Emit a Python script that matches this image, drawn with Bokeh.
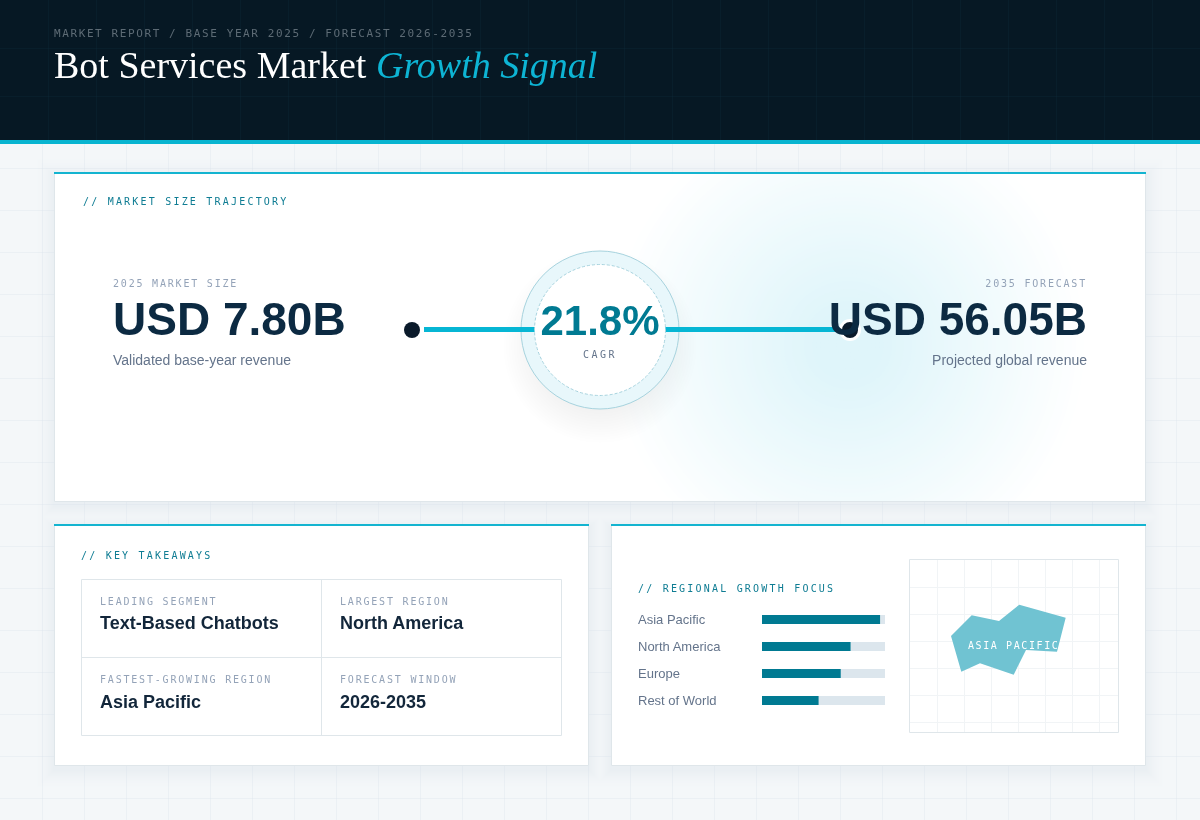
import numpy as np
from bokeh.embed import file_html
from bokeh.resources import INLINE
from bokeh.plotting import figure
from bokeh.layouts import column
from bokeh.models import Range1d
from bokeh.core.properties import value

# ---------- data ----------
REGIONS = ["Asia Pacific", "North America", "Europe", "Rest of World"]
REGION_SHARE = [96, 72, 64, 46]
KPI_LABELS = ["LEADING SEGMENT", "LARGEST REGION", "FASTEST-GROWING REGION", "FORECAST WINDOW"]
KPI_VALUES = ["Text-Based Chatbots", "North America", "Asia Pacific", "2026-2035"]
BASE_VALUE = "USD 7.80B"
FORECAST_VALUE = "USD 56.05B"
CAGR_VALUE = "21.8%"
MAP_X = [971.7, 999, 1019.3, 1065.7, 1057, 1026, 1013.7, 980, 961.3, 951]
MAP_Y = [615.3, 621, 604.7, 617.7, 651.7, 650, 674.7, 663.3, 671.7, 636]

# ---------- style ----------
W, H = 1200, 820
MONO, SANS, SERIF = "DejaVu Sans Mono", "Liberation Sans", "Liberation Serif"
PAGE = "#f4f7f9"
CYAN = "#06b6d4"
TEAL = "#007a92"
NAVY = "#0c2a42"
BORDER = "#dfe6ea"
SLATE = "#64748b"
MUTED = "#94a3b8"


def mix(a, b, t):
    ca = [int(a[i:i + 2], 16) for i in (1, 3, 5)]
    cb = [int(b[i:i + 2], 16) for i in (1, 3, 5)]
    return "#%02x%02x%02x" % tuple(round(x + (y - x) * t) for x, y in zip(ca, cb))


def layer(spacing=0.0):
    # the frame hangs over the page edge so that its half-pixel clip stays off screen
    f = figure(width=W + 2, height=H + 2, output_backend="svg", toolbar_location=None,
               x_range=Range1d(-0.5, W + 1.5), y_range=Range1d(H + 1.5, -0.5),
               x_axis_location=None, y_axis_location=None, min_border=0,
               outline_line_color=None, background_fill_color=None, border_fill_color=None)
    f.grid.visible = False
    f.styles = {"position": "fixed", "left": "-1px", "top": "-1px",
                "min-width": f"{W + 2}px", "min-height": f"{H + 2}px",
                "letter-spacing": f"{spacing}px"}
    f.tags = [spacing]
    return f


def txt(f, x, y, s, font, size, color, align="left", style="normal"):
    sp = f.tags[0]
    # tracking is not part of the measured width, so the anchor compensates for it
    dx = {"left": 0, "center": -len(s) * sp / 2, "right": -len(s) * sp}[align]
    f.text([x + dx], [y - 0.37 * size], text=[s], text_font=value(font), text_font_size=f"{size}px",
           text_color=color, text_align=align, text_baseline="alphabetic", text_font_style=style)


p0 = layer()
p0.quad(left=[-2], right=[W + 2], top=[-2], bottom=[H + 2], fill_color=PAGE, line_color=None)

CARDS = [(54, 1146, 172, 502), (54, 589, 524, 766), (611, 1146, 524, 766)]

# soft card shadows: graded rectangles, outermost level first across all cards
E = 22
for d in range(E, 0, -1):
    u = 1 - d / E
    for l, r, t, b in CARDS:
        p0.quad(left=[l - d], right=[r + d], top=[t - d + 4], bottom=[b + d + 4],
                fill_color=mix(PAGE, "#e9eef2", u * u), line_color=None)

# page grid
gx = np.arange(42, W, 42) + 0.5
gy = np.arange(168, H, 42) + 0.5
p0.segment(gx, 144, gx, H, line_color="#dbe3ea", line_alpha=0.35, line_width=1)
p0.segment(0, gy, W, gy, line_color="#dbe3ea", line_alpha=0.35, line_width=1)

# header
p0.quad(left=[-2], right=[W + 2], top=[-2], bottom=[140], fill_color="#061824", line_color=None)
hx = np.arange(48, W, 48) + 0.5
hy = np.arange(48, 140, 48) + 0.5
p0.segment(hx, 0, hx, 140, line_color="#0f2c3a", line_alpha=0.35, line_width=1)
p0.segment(0, hy, W, hy, line_color="#0f2c3a", line_alpha=0.35, line_width=1)
p0.quad(left=[-2], right=[W + 2], top=[140], bottom=[144], fill_color="#08b4d0", line_color=None)

# cards
for l, r, t, b in CARDS:
    p0.quad(left=[l + 0.5], right=[r - 0.5], top=[t + 0.5], bottom=[b - 0.5],
            fill_color="white", line_color=BORDER, line_width=1)

# glow inside the top card
l, r, t, b = CARDS[0]
theta = np.linspace(0, 2 * np.pi, 160)
GX, GY, GR = 848, 345, 240
for rr in np.arange(GR, 0, -4):
    u = 1 - rr / GR
    xs = np.clip(GX + rr * np.cos(theta), l + 1, r - 1)
    ys = np.clip(GY + rr * np.sin(theta), t + 1, b - 1)
    p0.patch(xs, ys, fill_color=mix("#ffffff", "#dff5fa", min(1.0, u / 0.85)), line_color=None)

# card top rules
for l, r, t, b in CARDS:
    p0.quad(left=[l], right=[r], top=[t], bottom=[t + 2], fill_color="#14b4d0", line_color=None)

# CAGR dial
CX, CY = 600, 330
for i in range(14):
    p0.circle([CX], [CY + 16], radius=79 + 18 - i * 2.6, fill_color="#0a4a60", fill_alpha=0.005, line_color=None)
p0.circle([CX], [CY], radius=79, fill_color="#e8f7fb", line_color="#a7d3de", line_width=1)
p0.segment([424, 664], [329.5, 329.5], [536, 850], [329.5, 329.5], line_color=CYAN, line_width=5)
p0.circle([CX], [CY], radius=65.5, fill_color="white", line_color="#a7d3de", line_width=1, line_dash="3 2")
p0.circle([412], [330], radius=8, fill_color="#0a1a2a", line_color=None)
p0.circle([850], [330], radius=9.5, fill_color="#0a1a2a", line_color="white", line_width=3)

# takeaways table
p0.quad(left=[81.5], right=[561.5], top=[579.5], bottom=[735.5], fill_color="white", line_color=BORDER)
p0.segment([321.5, 81.5], [579.5, 657.5], [321.5, 561.5], [735.5, 657.5], line_color=BORDER)

# regional bars, drawn through a 0-100 share scale
p0.extra_x_ranges = {"share": Range1d(-762.5 / 1.23, (W + 2 - 762.5) / 1.23)}
ROWS = [619.5, 646.5, 673.5, 700.5]
p0.hbar(y=ROWS, left=0, right=100, height=9, x_range_name="share", fill_color="#dce6ed", line_color=None)
p0.hbar(y=ROWS, left=0, right=REGION_SHARE, height=9, x_range_name="share", fill_color=TEAL, line_color=None)
for rowy, name in zip(ROWS, REGIONS):
    txt(p0, 638, rowy + 4.5, name, SANS, 13, SLATE)

# map box
mx = np.arange(937, 1118, 27) + 0.5
my = np.arange(587, 732, 27) + 0.5
p0.quad(left=[909.5], right=[1118.5], top=[559.5], bottom=[732.5], fill_color="white", line_color=BORDER)
p0.segment(mx, 560, mx, 732, line_color="#f1f4f6")
p0.segment(910, my, 1118, my, line_color="#f1f4f6")
p0.patch(MAP_X, MAP_Y, fill_color="#70c3d2", line_color=None)

# unspaced texts
txt(p0, 54, 79, "Bot Services Market", SERIF, 38, "white")
txt(p0, 376, 79, "Growth Signal", SERIF, 38, "#0db4d4", style="italic")
txt(p0, 113, 365, "Validated base-year revenue", SANS, 14, SLATE)
txt(p0, 1087, 365, "Projected global revenue", SANS, 14, SLATE, align="right")
txt(p0, 600, 336, CAGR_VALUE, SANS, 42, TEAL, align="center", style="bold")
txt(p0, 113, 336, BASE_VALUE, SANS, 46, NAVY, style="bold")
txt(p0, 1087, 336, FORECAST_VALUE, SANS, 46, NAVY, align="right", style="bold")
KX = [100, 340, 100, 340]
KY = [630, 630, 709, 708]
for x, y, s in zip(KX, KY, KPI_VALUES):
    txt(p0, x, y, s, SANS, 18, "#12263a", style="bold")

# letter-spaced texts: one transparent layer per tracking value
p1 = layer(1.6)
txt(p1, 54, 38, "MARKET REPORT / BASE YEAR 2025 / FORECAST 2026-2035", MONO, 11, "#5d6b75")
txt(p1, 968, 649, "ASIA PACIFIC", MONO, 10, "white")

p2 = layer(2.2)
txt(p2, 83, 205, "// MARKET SIZE TRAJECTORY", MONO, 10, "#0e7c93")
txt(p2, 81, 559, "// KEY TAKEAWAYS", MONO, 10, "#0e7c93")
txt(p2, 638, 592, "// REGIONAL GROWTH FOCUS", MONO, 10, "#0e7c93")

p3 = layer(1.8)
txt(p3, 113, 287, "2025 MARKET SIZE", MONO, 10, MUTED)
txt(p3, 1087, 287, "2035 FORECAST", MONO, 10, MUTED, align="right")
for x, y, s in zip(KX, [605, 605, 683, 683], KPI_LABELS):
    txt(p3, x, y, s, MONO, 10, MUTED)

p4 = layer(2.5)
txt(p4, 600, 358, "CAGR", MONO, 10, SLATE, align="center")

p = column(p0, p1, p2, p3, p4)
open("out.html", "w").write(file_html(p, INLINE))
